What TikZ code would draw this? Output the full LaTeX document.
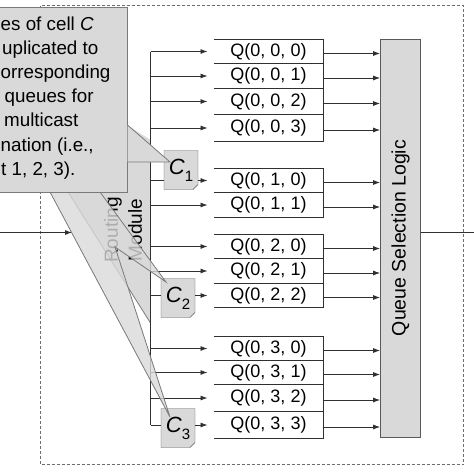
\documentclass[tikz,border=0pt]{standalone}
\usepackage{fontspec}
\setmainfont{Liberation Sans}
\usetikzlibrary{arrows.meta,shapes.misc}
\definecolor{boxgray}{HTML}{D9D9D9}
\definecolor{edgegray}{HTML}{7A7A7A}
\definecolor{linegray}{HTML}{303030}
\begin{document}
\begin{tikzpicture}
[x=1pt,y=-1pt,
  queuedecorate/.style={minimum width=110pt,inner sep=0pt,outer sep=0pt,
    font=\fontsize{18}{20}\selectfont},
  celldecorate/.style={chamfered rectangle,chamfered rectangle corners=south east,
    chamfered rectangle xsep=2.5pt,chamfered rectangle ysep=2.5pt,
    minimum width=34pt,minimum height=39pt,inner sep=0pt,
    draw=linegray!80,fill=boxgray,font=\fontsize{22}{22}\selectfont},
  linedecorate/.style={-,draw=linegray,line width=0.8pt},
  arrowdecorate/.style={-{Latex[length=7pt,width=5pt]},draw=linegray,line width=0.8pt},
  calloutdecorate/.style={fill=boxgray,draw=edgegray,line width=0.8pt},
  textdecorate/.style={anchor=base west,inner sep=0pt,font=\fontsize{18.8}{24}\selectfont}]
\useasboundingbox (0,0) rectangle (474,474);
\clip (0,0) rectangle (474,474);
%% switch frame
\draw[dash pattern=on 3pt off 2pt,draw=linegray!70,line width=0.7pt] (40.5,5.5) rectangle (463.5,464.5);
%% routing module
\fill[boxgray] (127,125) -- (150.5,140) -- (150.5,323) -- (68,192) -- cycle;
\draw[draw=edgegray,line width=0.8pt] (68,192) -- (150.5,323);
\node (rm) at (123,230) [rotate=90,align=center,inner sep=0pt,
  font=\fontsize{19}{24}\selectfont] {Routing\\Module};
%% queues
\foreach \g/\q/\y/\h in {0/0/51.5/24, 0/1/76/25, 0/2/101.5/26, 0/3/128/27,
  1/0/180.5/24, 1/1/205/25, 2/0/246.5/24, 2/1/271/25, 2/2/295.5/24,
  3/0/348.5/24, 3/1/372.5/24, 3/2/398/27, 3/3/425/27}
{
  \node (q\g\q) at (268.5,\y) [queuedecorate,minimum height=\h pt] {Q(0, \g, \q)};
  \draw[linedecorate] (q\g\q.north west) -- (q\g\q.north east)
    -- (q\g\q.south east) -- (q\g\q.south west);
  \coordinate (b\g\q) at (150.5,\y);
}
\node (qsl) at (400.5,238) [draw=linegray!80,fill=boxgray,line width=0.8pt,
  minimum width=40pt,minimum height=398pt] {};
\node (qsltext) at (qsl.center) [rotate=90,font=\fontsize{19.5}{20}\selectfont]
  {Queue Selection Logic};
%% cells
\foreach \c/\x/\y in {1/181/170, 2/178/298, 3/178/428}
  \node (c\c) at (\x,\y) [celldecorate]
    {\textit{C}\raisebox{-7pt}{\fontsize{15}{15}\selectfont\c}};
%% edges or lines
\coordinate (in) at (0,232.5);
\coordinate (rin) at (72,232.5);
\coordinate (out) at (474,232.5);
\draw[arrowdecorate] (in) -- (rin);
\draw[linedecorate] (b00) -- (b33);
\foreach \g/\q in {0/0, 0/1, 0/2, 0/3, 1/1, 2/0, 2/1, 3/0, 3/1, 3/2}
  \draw[arrowdecorate,shorten >=6pt] (b\g\q) -- (q\g\q.west);
\foreach \c/\g/\q in {1/1/0, 2/2/2, 3/3/3}
{
  \draw[linedecorate] (b\g\q) -- (c\c.west |- b\g\q);
  \draw[arrowdecorate,shorten >=6pt] (c\c.east |- b\g\q) -- (q\g\q.west);
}
\foreach \g/\q in {0/0, 0/1, 0/2, 0/3, 1/0, 1/1, 2/0, 2/1, 2/2, 3/0, 3/1, 3/2, 3/3}
  \draw[arrowdecorate] ([yshift=-2pt]q\g\q.east) -- ([yshift=-2pt]q\g\q.east -| qsl.west);
\draw[linedecorate] (qsl.east |- out) -- (out);
%% callout
\filldraw[calloutdecorate,fill opacity=0.8] (50,192) -- (170,417) -- (115,247)
  -- (166,282) -- (100,192);
\filldraw[calloutdecorate] (-10,7) rectangle (127.5,192);
\filldraw[calloutdecorate] (127.5,125) -- (170,162) -- (127.5,162);
\foreach \i/\x/\y/\txt in {1/0.5/30/{es of cell \textit{C}}, 2/2/54.2/{uplicated to},
  3/0.5/78.4/{orresponding}, 4/4.5/102.6/{queues for}, 5/4/126.8/{multicast},
  6/0.5/151/{nation (i.e.,}, 7/1/175.2/{t 1, 2, 3).}}
  \node (l\i) at (\x,\y) [textdecorate] {\txt};
\end{tikzpicture}
\end{document}
